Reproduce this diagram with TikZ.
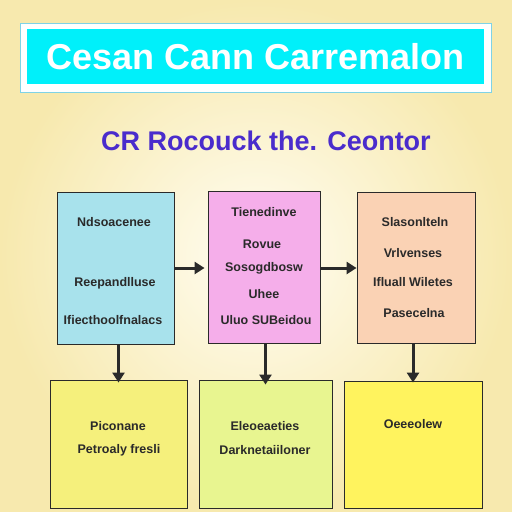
\documentclass[tikz,border=0pt]{standalone}
\usepackage{fontspec}
\setmainfont{Liberation Sans}
\usetikzlibrary{arrows.meta}

\definecolor{bgyellow}{HTML}{F7E9AE}
\definecolor{bglight}{HTML}{FFFDF2}
\definecolor{titlecyan}{HTML}{00F0FA}
\definecolor{titleedge}{HTML}{7FD3E6}
\definecolor{subblue}{HTML}{4A2CCC}
\definecolor{boxblue}{HTML}{A8E2EC}
\definecolor{boxpink}{HTML}{F5AEEA}
\definecolor{boxpeach}{HTML}{FAD2B4}
\definecolor{boxyellow}{HTML}{F5F07C}
\definecolor{boxlime}{HTML}{E8F590}
\definecolor{boxgold}{HTML}{FFF35E}
\definecolor{ink}{HTML}{2A2A2A}

\begin{document}
\begin{tikzpicture}[x=1pt, y=-1pt,
    main/.style = {draw=ink, line width=0.9pt, inner sep=0pt},
    txt/.style = {font=\bfseries\fontsize{12.5}{12.5}\selectfont, text=ink, inner sep=0pt},
    link/.style = {draw=ink, line width=3pt, -{Triangle[length=10pt, width=12pt]}}]
    % background
    \useasboundingbox (0,0) rectangle (512,512);
    \shade[inner color=bglight, outer color=bgyellow] (0,0) rectangle (512,512);

    % title banner
    \node[draw=titleedge, line width=1pt, fill=white, minimum width=471pt, minimum height=69pt] (frame) at (255.5,57.5) {};
    \node[fill=titlecyan, minimum width=457pt, minimum height=55pt, inner sep=0pt] (title) at (255.5,56.5)
        {\textcolor{white}{\bfseries\fontsize{36}{36}\selectfont Cesan Cann Carremalon}};
    \node[text=subblue, font=\bfseries\fontsize{27}{27}\selectfont] (sub) at (266,141) {CR Rocouck the. Ceontor};

    % top row
    \node[main, fill=boxblue, minimum width=117pt, minimum height=152pt] (b1) at (115.5,268) {};
    \node[main, fill=boxpink, minimum width=112pt, minimum height=152pt] (b2) at (264,267) {};
    \node[main, fill=boxpeach, minimum width=118pt, minimum height=151pt] (b3) at (416,267.5) {};

    \node[txt] (b1a) at (114,222) {Ndsoacenee};
    \node[txt] (b1b) at (115,283) {Reepandlluse};
    \node[txt] (b1c) at (113,320) {Ifiecthoolfnalacs};

    \node[txt] (b2a) at (264,212) {Tienedinve};
    \node[txt] (b2b) at (262,244) {Rovue};
    \node[txt] (b2c) at (264,268) {Sosogdbosw};
    \node[txt] (b2d) at (264,294) {Uhee};
    \node[txt] (b2e) at (266,320) {Uluo SUBeidou};

    \node[txt] (b3a) at (415,222) {Slasonlteln};
    \node[txt] (b3b) at (413,253) {Vrlvenses};
    \node[txt] (b3c) at (413,282) {Ifluall Wiletes};
    \node[txt] (b3d) at (414,313) {Pasecelna};

    % bottom row
    \node[main, fill=boxyellow, minimum width=137pt, minimum height=128pt] (b4) at (118.5,444) {};
    \node[main, fill=boxlime, minimum width=133pt, minimum height=128pt] (b5) at (265.5,444) {};
    \node[main, fill=boxgold, minimum width=138pt, minimum height=127pt] (b6) at (413,444.5) {};

    \node[txt] (b4a) at (118,426) {Piconane};
    \node[txt] (b4b) at (119,450) {Petroaly fresli};
    \node[txt] (b5a) at (265,426) {Eleoeaeties};
    \node[txt] (b5b) at (265,450) {Darknetaiiloner};
    \node[txt] (b6a) at (413,424) {Oeeeolew};

    % connectors
    \draw[link] (b1.east |- b2c) -- ([xshift=-3pt]b2.west |- b2c);
    \draw[link] (b2.east |- b2c) -- (b3.west |- b2c);
    \draw[link] (b1.south -| b4.north) -- ([yshift=-3pt]b4.north);
    \draw[link] (b2.south -| b5.north) -- ([yshift=-5pt]b5.north);
    \draw[link] (b3.south -| b6.north) -- ([yshift=-2pt]b6.north);
\end{tikzpicture}
\end{document}
